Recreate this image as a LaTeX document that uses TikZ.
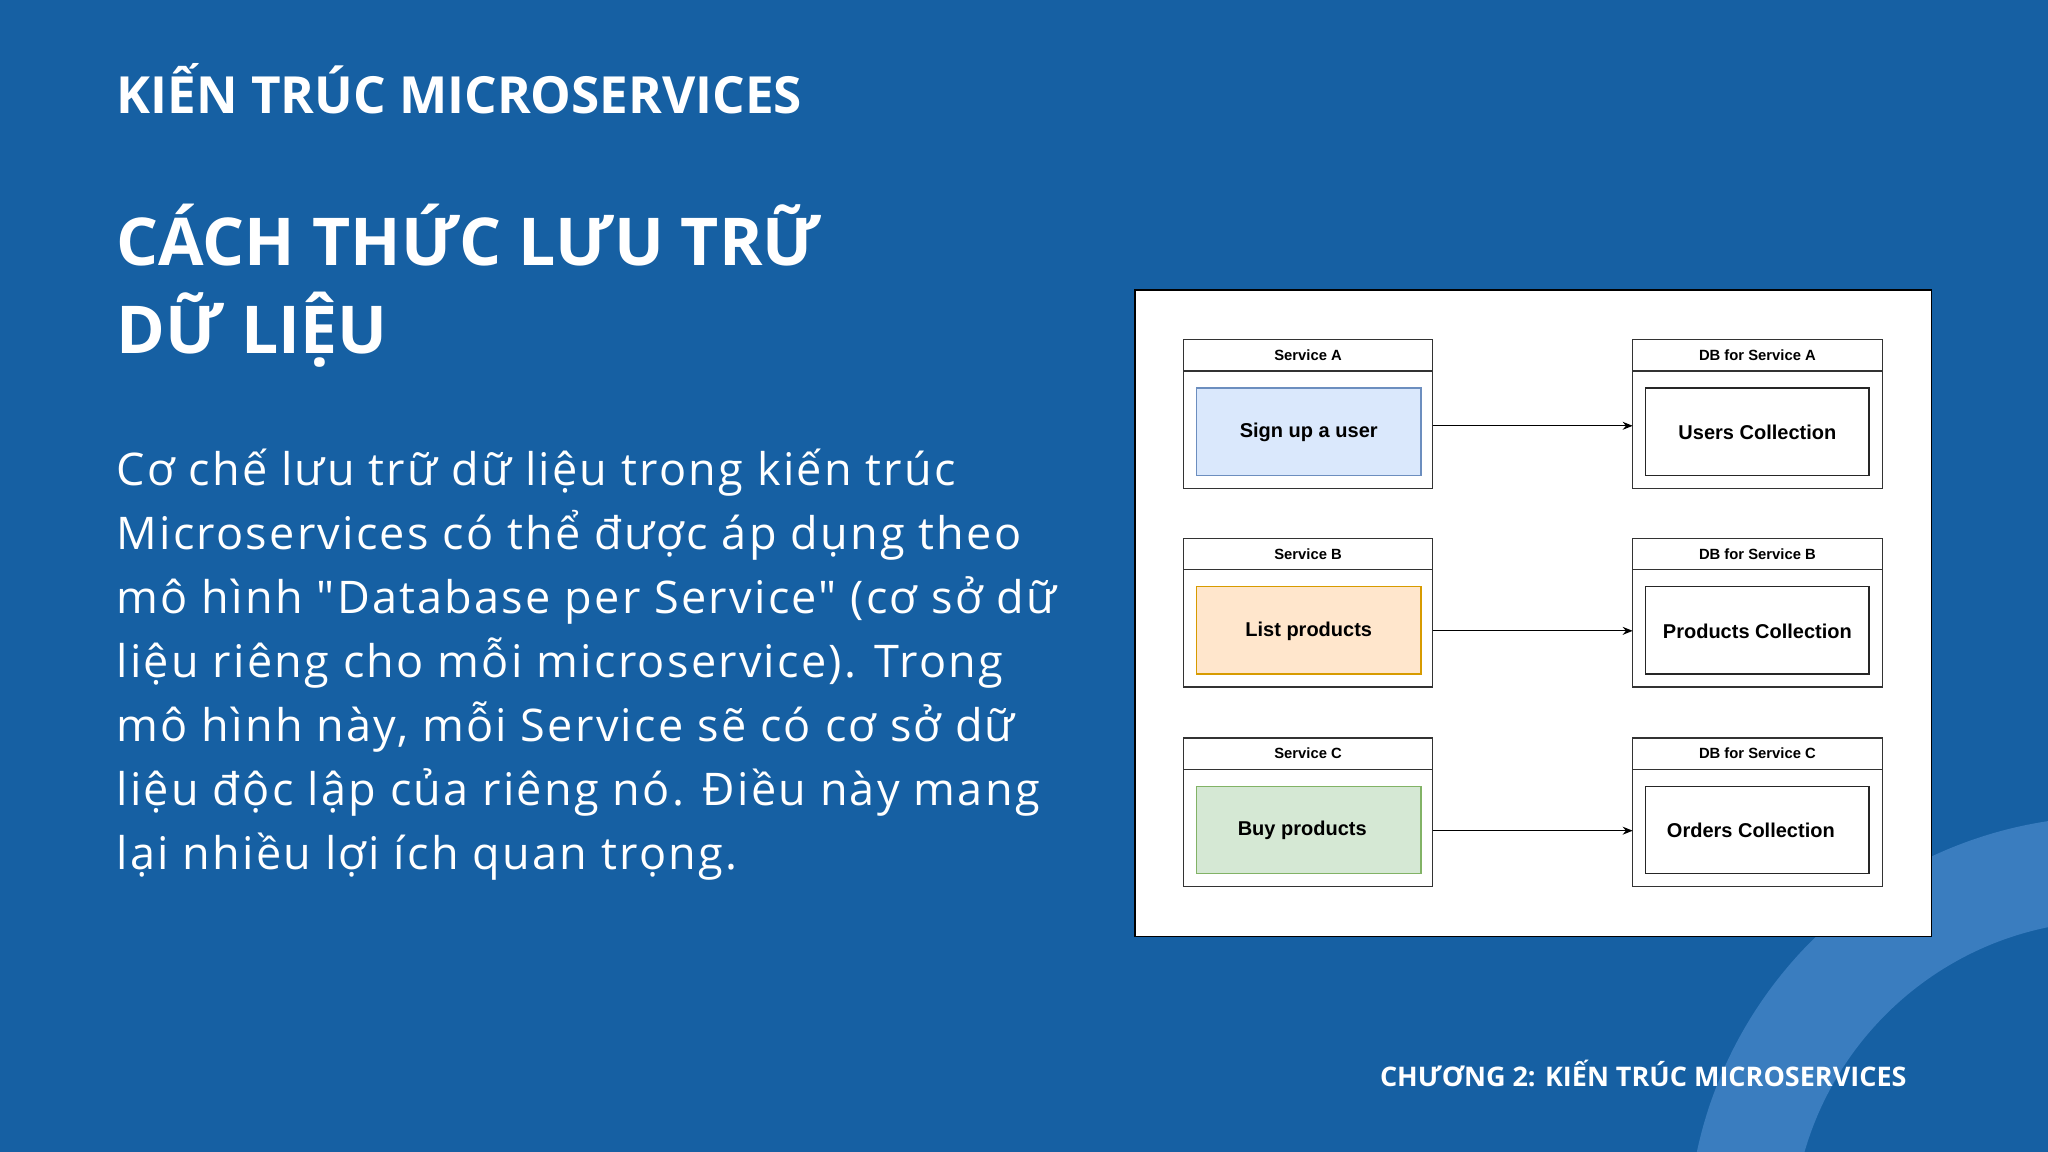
\documentclass[tikz,border=0pt]{standalone}
\usepackage{fontspec}
\defaultfontfeatures[\rmfamily]{}
\setmainfont{Open Sans}
\newfontfamily\diag{Liberation Sans}
\usetikzlibrary{arrows.meta}
\definecolor{bg}{HTML}{1660A3}
\definecolor{ring}{HTML}{3A7DBF}
\definecolor{fa}{HTML}{DAE8FC}\definecolor{sa}{HTML}{6C8EBF}
\definecolor{fb}{HTML}{FFE6CC}\definecolor{sb}{HTML}{D79B00}
\definecolor{fc}{HTML}{D5E8D4}\definecolor{sc}{HTML}{82B366}
\begin{document}
\begin{tikzpicture}[x=0.653pt,y=-0.653pt,
  frame/.style={draw=black!80,line width=0.6pt,fill=white},
  hdr/.style={font=\diag\bfseries\fontsize{7.4}{9}\selectfont,anchor=center,inner sep=0},
  lbl/.style={font=\diag\bfseries\fontsize{10}{12}\selectfont,anchor=center,inner sep=0},
  inbox/.style={line width=0.6pt},
  arr/.style={-{Stealth[length=5pt,width=4pt]},line width=0.6pt},
  para/.style={anchor=base west,inner sep=0,text=white,font=\addfontfeatures{LetterSpace=5}\fontsize{22.5}{27}\selectfont}]
\fill[bg] (0,0) rectangle (1568,882);
\useasboundingbox (0,0) rectangle (1568,882);
\begin{scope}
\clip (0,0) rectangle (1568,882);
\fill[ring,even odd rule] (1617,950) circle[radius=325] (1617,950) circle[radius=245];
\end{scope}
\node[anchor=base west,inner sep=0,text=white,font=\bfseries\fontsize{25.6}{30}\selectfont] (t1) at (89,87) {KIẾN TRÚC MICROSERVICES};
\node[anchor=base west,inner sep=0,text=white,font=\bfseries\fontsize{33}{40}\selectfont] (t2) at (89,203) {CÁCH THỨC LƯU TRỮ};
\node[anchor=base west,inner sep=0,text=white,font=\bfseries\fontsize{33}{40}\selectfont] (t3) at (89,271) {DỮ LIỆU};
\node[para] (p1) at (89,372) {Cơ chế lưu trữ dữ liệu trong kiến trúc};
\node[para] (p2) at (89,421) {Microservices có thể được áp dụng theo};
\node[para] (p3) at (89,470) {mô hình "Database per Service" (cơ sở dữ};
\node[para] (p4) at (89,519) {liệu riêng cho mỗi microservice). Trong};
\node[para] (p5) at (89,568) {mô hình này, mỗi Service sẽ có cơ sở dữ};
\node[para] (p6) at (89,617) {liệu độc lập của riêng nó. Điều này mang};
\node[para] (p7) at (89,666) {lại nhiều lợi ích quan trọng.};
\node[anchor=base east,inner sep=0,text=white,font=\bfseries\fontsize{13.5}{16}\selectfont] (ft) at (1460,832) {CHƯƠNG 2: KIẾN TRÚC MICROSERVICES};
% diagram
\draw[black,fill=white,line width=0.6pt] (869,222) rectangle (1479,717);
\foreach \y/\n/\s/\l/\f/\st/\c/\xo/\ay in {260/A/Service A/Sign up a user/fa/sa/Users Collection/0/66,412/B/Service B/List products/fb/sb/Products Collection/0/71,565/C/Service C/Buy products/fc/sc/Orders Collection/-5/71}{
  \draw[frame] (906,\y) rectangle (1097,\y+114);
  \draw[black!80,line width=0.6pt] (906,\y+24) -- (1097,\y+24);
  \node[hdr] (h\n) at (1001.5,\y+12) {\s};
  \node[draw=\st,fill=\f,inbox,minimum width=172*0.653pt,minimum height=67*0.653pt,inner sep=0] (s\n) at (1002,\y+70.5) {};
  \node[lbl] (sl\n) at (1002+\xo,\y+71) {\l};
  \draw[frame] (1250,\y) rectangle (1441,\y+114);
  \draw[black!80,line width=0.6pt] (1250,\y+24) -- (1441,\y+24);
  \node[hdr] (dh\n) at (1345.5,\y+12) {DB for \s};
  \node[draw=black!85,fill=white,inbox,minimum width=171*0.653pt,minimum height=67*0.653pt,inner sep=0] (d\n) at (1345.5,\y+70.5) {};
  \node[lbl] (dl\n) at (1345.5+\xo,\y+71) {\c};
  \coordinate (o\n) at (1097,\y+\ay);
  \coordinate (i\n) at (1250,\y+\ay);
  \draw[arr] (o\n) -- (i\n);
}
\end{tikzpicture}
\end{document}
